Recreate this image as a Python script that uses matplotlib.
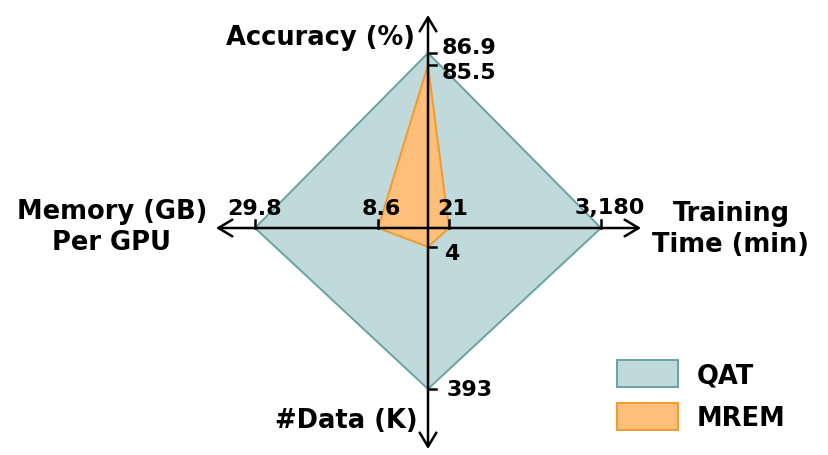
import matplotlib.pyplot as plt
from matplotlib.patches import FancyArrowPatch

# axes in drawing order: top, right, bottom, left
axis_names = ["Accuracy (%)", "Training\nTime (min)", "#Data (K)", "Memory (GB)\nPer GPU"]
qat_values = [86.9, 3180, 393, 29.8]
mrem_values = [85.5, 21, 4, 8.6]
qat_labels = ["86.9", "3,180", "393", "29.8"]
mrem_labels = ["85.5", "21", "4", "8.6"]

# schematic scale of each axis: value at the centre, and pixel length of the QAT value
axis_lo = [66.5, -415, -48, 0]
axis_len = [175, 173, 161, 173]
directions = [(0, 1), (1, 0), (0, -1), (-1, 0)]

QAT_FILL = "#c0dadb"
QAT_EDGE = "#6aa2a3"
MREM_FILL = "#fdbf79"
MREM_EDGE = "#f29a2e"

FS = 18.5      # axis names, legend
FS_NUM = 16    # value labels
plt.rcParams["font.family"] = "DejaVu Sans"
plt.rcParams["font.weight"] = "bold"


def to_xy(values):
    xs, ys = [], []
    for v, lo, hi, L, (dx, dy) in zip(values, axis_lo, qat_values, axis_len, directions):
        r = (v - lo) / (hi - lo) * L
        xs.append(dx * r)
        ys.append(dy * r)
    return xs, ys


fig = plt.figure(figsize=(8.29, 4.56), dpi=100)
ax = fig.add_axes([0, 0, 1, 1])
ax.set_xlim(-428, 401)
ax.set_ylim(-227, 229)
ax.set_aspect("equal")
ax.axis("off")

qx, qy = to_xy(qat_values)
mx, my = to_xy(mrem_values)
ax.fill(qx, qy, facecolor=QAT_FILL, edgecolor=QAT_EDGE, linewidth=1.4, label="QAT", zorder=1)
ax.fill(mx, my, facecolor=MREM_FILL, edgecolor=MREM_EDGE, linewidth=1.4, label="MREM", zorder=2)

# axes with open arrow heads
for (x0, y0), (x1, y1) in [((-212, 0), (213, 0)), ((0, -221), (0, 213))]:
    ax.add_patch(FancyArrowPatch((x0, y0), (x1, y1), arrowstyle="<->,head_length=0.5,head_width=0.3",
                                 mutation_scale=20, color="black", linewidth=1.8, zorder=3,
                                 shrinkA=0, shrinkB=0))

# tick marks at each vertex
tick = 8
for xs, ys in [(qx, qy), (mx, my)]:
    for i in range(4):
        if i in (0, 2):
            ax.plot([xs[i], xs[i] + tick], [ys[i], ys[i]], color="black", linewidth=1.8, zorder=3)
        else:
            ax.plot([xs[i], xs[i]], [ys[i], ys[i] + tick], color="black", linewidth=1.8, zorder=3)

# value labels
ax.text(qx[0] + 14, qy[0] + 6, qat_labels[0], fontsize=FS_NUM, ha="left", va="center")
ax.text(mx[0] + 14, my[0] - 7, mrem_labels[0], fontsize=FS_NUM, ha="left", va="center")
ax.text(qx[1] + 9, 21, qat_labels[1], fontsize=FS_NUM, ha="center", va="center")
ax.text(mx[1] + 4, 20, mrem_labels[1], fontsize=FS_NUM, ha="center", va="center")
ax.text(qx[3], 20, qat_labels[3], fontsize=FS_NUM, ha="center", va="center")
ax.text(mx[3] + 3, 20, mrem_labels[3], fontsize=FS_NUM, ha="center", va="center")
ax.text(16, my[2] - 6, mrem_labels[2], fontsize=FS_NUM, ha="left", va="center")
ax.text(19, qy[2], qat_labels[2], fontsize=FS_NUM, ha="left", va="center")

# axis names
ax.text(-13, 191, axis_names[0], fontsize=FS, ha="right", va="center")
ax.text(303, -1, axis_names[1], fontsize=FS, ha="center", va="center", linespacing=1.25)
ax.text(-10, -192, axis_names[2], fontsize=FS, ha="right", va="center")
ax.text(-316, 1, axis_names[3], fontsize=FS, ha="center", va="center", linespacing=1.25)

ax.legend(loc="upper left", bbox_to_anchor=(0.744, 0.208), frameon=False, fontsize=FS,
          handlelength=2.4, handleheight=1.25, labelspacing=0.55, handletextpad=0.7,
          borderpad=0, borderaxespad=0)

fig.savefig("out.png", dpi=100)
